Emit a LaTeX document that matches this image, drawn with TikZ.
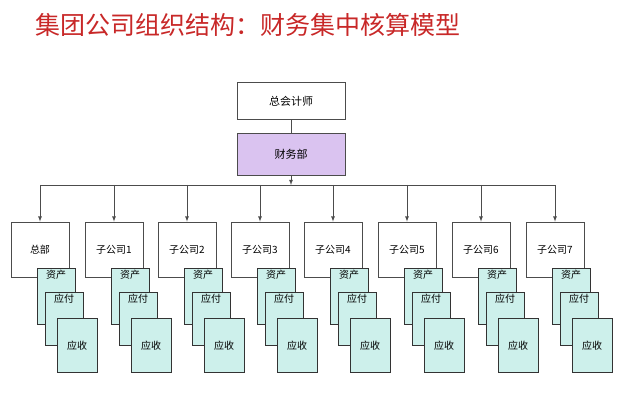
\documentclass[tikz,border=0pt]{standalone}
\usepackage{fontspec}
\setmainfont{Noto Sans CJK SC}
\usetikzlibrary{positioning}
\definecolor{titlered}{RGB}{200,40,40}
\definecolor{deptfill}{RGB}{218,195,240}
\definecolor{sheetfill}{RGB}{205,240,235}
\begin{document}
\begin{tikzpicture}[
  x=1pt, y=-1pt,
  mybox/.style={draw, thick, black!70, text=black, fill=white, minimum width=108pt, minimum height=37pt, font=\fontsize{11}{13}\selectfont},
  unit/.style={draw, thick, black!70, text=black, fill=white, minimum width=58pt, minimum height=55pt, font=\fontsize{10}{12}\selectfont, inner sep=1pt},
  sheet/.style={draw, black!80, fill=sheetfill, minimum width=38pt, minimum height=56pt, anchor=north west, inner sep=0pt},
  sheettext/.style={font=\fontsize{10}{12}\selectfont, anchor=north, inner sep=1pt}
]
  \useasboundingbox (0,0) rectangle (640,403);

  \node[text=titlered, anchor=west, font=\fontsize{25}{28}\selectfont] (title) at (32,25) {集团公司组织结构：财务集中核算模型};

  \node[mybox] (cfo) at (291,101) {总会计师};
  \node[mybox, fill=deptfill, minimum height=42pt] (fin) at (291,154) {财务部};
  \coordinate (bus) at (291,185);
  \draw[thick, black!70] (cfo) -- (fin);
  \draw[thick, black!70, -latex] (fin) -- (bus);

  \foreach \i/\x/\name in {0/40/总部, 1/114/子公司1, 2/187/子公司2, 3/260/子公司3, 4/333/子公司4, 5/407/子公司5, 6/481/子公司6, 7/555/子公司7} {
    \node[unit] (b\i) at (\x,249.5) {\name};
    \coordinate (t\i) at (\x,185);
    \draw[thick, black!70, -latex] (t\i) -- (b\i.north);
    \node[sheet] (s\i a) at ([xshift=-3pt,yshift=9pt]b\i.south) {};
    \node[sheettext] at (s\i a.north) {资产};
    \node[sheet, minimum height=53pt] (s\i b) at ([xshift=5pt,yshift=-15pt]b\i.south) {};
    \node[sheettext] at (s\i b.north) {应付};
    \node[sheet, minimum width=40pt, minimum height=54pt] (s\i c) at ([xshift=17pt,yshift=-41pt]b\i.south) {};
    \node[font=\fontsize{10}{12}\selectfont] at (s\i c.center) {应收};
  }
  \draw[thick, black!70] (t0) -- (t7);
\end{tikzpicture}
\end{document}
